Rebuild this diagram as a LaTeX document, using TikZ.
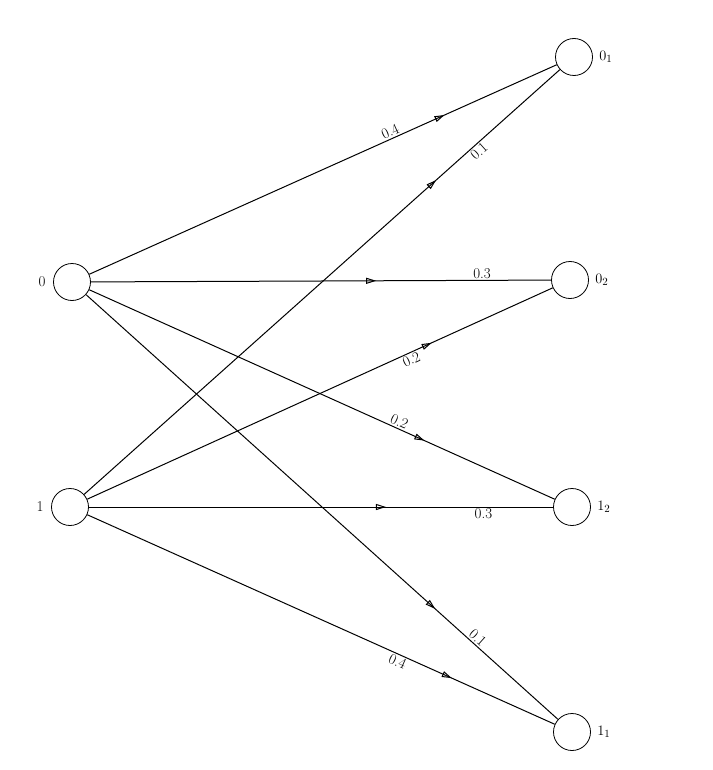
\documentclass[tikz,border=0pt]{standalone}
\usetikzlibrary{arrows.meta,decorations.markings}
\begin{document}
\begin{tikzpicture}[x=1pt,y=-1pt,
  st/.style={circle,draw,minimum size=37pt,inner sep=0pt,line width=0.8pt},
  lab/.style={font=\fontsize{15}{17}\selectfont},
  el/.style={font=\fontsize{15}{17}\selectfont,sloped,inner sep=1.5pt},
  ed/.style={line width=1pt,postaction={decorate},decoration={markings,mark=at position #1 with {\arrow{Triangle[open,length=10pt,width=6pt]}}}}]
\useasboundingbox (0,0) rectangle (712,770);
\node[st] (a0) at (72,282) {};
\node[st] (a1) at (70,507) {};
\node[st] (b01) at (574,57) {};
\node[st] (b02) at (570,280) {};
\node[st] (b12) at (572,507) {};
\node[st] (b11) at (572,732) {};
\node[lab,anchor=east] (t0) at ([xshift=-4pt]a0.west) {0};
\node[lab,anchor=east] (t1) at ([xshift=-4pt]a1.west) {1};
\node[lab,anchor=west] (t01) at ([xshift=3pt]b01.east) {$0_1$};
\node[lab,anchor=west] (t02) at ([xshift=3pt]b02.east) {$0_2$};
\node[lab,anchor=west] (t12) at ([xshift=3pt]b12.east) {$1_2$};
\node[lab,anchor=west] (t11) at ([xshift=3pt]b11.east) {$1_1$};
\draw[ed=0.76] (a0) -- node[el,pos=0.65,above] {0.4} (b01);
\draw[ed=0.62] (a0) -- node[el,pos=0.85,above] {0.3} (b02);
\draw[ed=0.72] (a0) -- node[el,pos=0.66,above] {0.2} (b12);
\draw[ed=0.74] (a0) -- node[el,pos=0.82,above] {0.1} (b11);
\draw[ed=0.74] (a1) -- node[el,pos=0.82,below] {0.1} (b01);
\draw[ed=0.74] (a1) -- node[el,pos=0.69,below] {0.2} (b02);
\draw[ed=0.64] (a1) -- node[el,pos=0.85,below] {0.3} (b12);
\draw[ed=0.78] (a1) -- node[el,pos=0.67,below] {0.4} (b11);
\end{tikzpicture}
\end{document}
